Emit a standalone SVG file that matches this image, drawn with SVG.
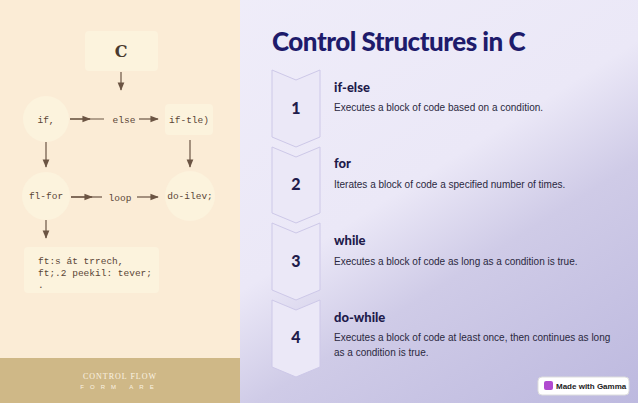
<svg xmlns="http://www.w3.org/2000/svg" width="638" height="403" viewBox="0 0 638 403">
<defs>
<linearGradient id="bg" x1="0" y1="0" x2="1" y2="1">
<stop offset="0" stop-color="#f1effa"/><stop offset="0.55" stop-color="#ebe8f7"/><stop offset="0.7" stop-color="#cfcbe7"/><stop offset="1" stop-color="#bdb9df"/>
</linearGradient>
<marker id="ah" viewBox="0 0 10 10" refX="9" refY="5" markerWidth="7" markerHeight="7" orient="auto"><path d="M0,1 L10,5 L0,9 z" fill="#6b5443"/></marker>
<style>
.m{font-family:"Liberation Mono","DejaVu Sans Mono",monospace;font-size:9.5px;fill:#5a4536}
.ln{stroke:#6b5443;stroke-width:1.2;fill:none}
.nd{fill:#fcf3dd}
.chev{fill:#ebe8f7;stroke:#cdc8e8;stroke-width:1}
.num{font-family:Lato,"Noto Sans",sans-serif;font-weight:900;font-size:16px;fill:#1e1b4b;text-anchor:middle}
.h{font-family:Lato,"Noto Sans",sans-serif;font-weight:900;font-size:13px;fill:#1e1b4b}
.d{font-family:"Liberation Sans",Arial,sans-serif;font-size:10px;fill:#2a2840}
</style>
</defs>
<rect width="638" height="403" fill="url(#bg)"/>
<rect width="240" height="403" fill="#fbecd6"/>
<rect x="0" y="358" width="240" height="45" fill="#cfb887"/>
<text x="120" y="379" text-anchor="middle" font-family="Liberation Serif,serif" font-size="8" letter-spacing="1" fill="#fbf3e2">CONTROL FLOW</text>
<text x="120" y="389" text-anchor="middle" font-family="Liberation Sans,sans-serif" font-size="6" letter-spacing="6" fill="#fbf3e2">FORM ARE</text>
<g id="n-c"><rect x="85" y="31" width="73" height="40" rx="4" class="nd"/><text x="121" y="57" text-anchor="middle" font-family="DejaVu Serif,serif" font-weight="bold" font-size="16" fill="#4a3a2e">C</text></g>
<g id="n-if"><circle cx="46" cy="119" r="23" class="nd"/><text x="46" y="123" text-anchor="middle" class="m">if,</text></g>
<g id="n-else"><text x="124" y="123" text-anchor="middle" class="m">else</text></g>
<g id="n-iftle"><rect x="165" y="104" width="48" height="31" rx="4" class="nd"/><text x="189" y="123" text-anchor="middle" class="m">if-tle)</text></g>
<g id="n-flfor"><circle cx="46" cy="196" r="24" class="nd"/><text x="46" y="199" text-anchor="middle" class="m">fl-for</text></g>
<g id="n-loop"><text x="120" y="201" text-anchor="middle" class="m">loop</text></g>
<g id="n-doilev"><circle cx="190" cy="196" r="25" class="nd"/><text x="190" y="199" text-anchor="middle" class="m">do-ilev;</text></g>
<g id="n-code"><rect x="24" y="247" width="135" height="46" rx="4" class="nd"/><text x="38" y="264" class="m">ft:s át trrech,</text><text x="38" y="276" class="m">ft;.2 peekil: tever;</text><text x="38" y="288" class="m">.</text></g>
<g id="connectors">
<path class="ln" d="M121,72 V90" marker-end="url(#ah)"/>
<path class="ln" d="M70,119 H104" /><path class="ln" d="M70,119 H90" marker-end="url(#ah)"/>
<path class="ln" d="M139,119 H158" marker-end="url(#ah)"/>
<path class="ln" d="M46,142 V167" marker-end="url(#ah)"/>
<path class="ln" d="M190,140 V167" marker-end="url(#ah)"/>
<path class="ln" d="M71,197 H102"/><path class="ln" d="M71,197 H92" marker-end="url(#ah)"/>
<path class="ln" d="M137,197 H158" marker-end="url(#ah)"/>
<path class="ln" d="M46,220 V238" marker-end="url(#ah)"/>
</g>
<text x="272" y="51" font-family="Lato,'Noto Sans',sans-serif" font-weight="900" font-size="26" fill="#1e1b6b" letter-spacing="-0.5">Control Structures in C</text>
<g id="s1"><path class="chev" d="M272,70 L296,80 L320,70 V137 L296,147 L272,137 Z"/><text x="296" y="114" class="num">1</text><text x="334" y="92" class="h">if-else</text><text x="334" y="111" class="d">Executes a block of code based on a condition.</text></g>
<g id="s2"><path class="chev" d="M272,147 L296,157 L320,147 V213 L296,223 L272,213 Z"/><text x="296" y="190" class="num">2</text><text x="334" y="168" class="h">for</text><text x="334" y="188" class="d">Iterates a block of code a specified number of times.</text></g>
<g id="s3"><path class="chev" d="M272,223 L296,233 L320,223 V290 L296,300 L272,290 Z"/><text x="296" y="267" class="num">3</text><text x="334" y="245" class="h">while</text><text x="334" y="265" class="d">Executes a block of code as long as a condition is true.</text></g>
<g id="s4"><path class="chev" d="M272,300 L296,310 L320,300 V367 L296,377 L272,367 Z"/><text x="296" y="343" class="num">4</text><text x="334" y="322" class="h">do-while</text><text x="334" y="341" class="d">Executes a block of code at least once, then continues as long</text><text x="334" y="356" class="d">as a condition is true.</text></g>
<g id="badge"><rect x="538" y="377" width="91" height="18" rx="4" fill="#fff" stroke="#ddd"/><rect x="544" y="381" width="9" height="9" rx="2" fill="#b04ad0"/><text x="556" y="389" font-family="Liberation Sans,sans-serif" font-size="8" font-weight="bold" fill="#222">Made with Gamma</text></g>
</svg>
